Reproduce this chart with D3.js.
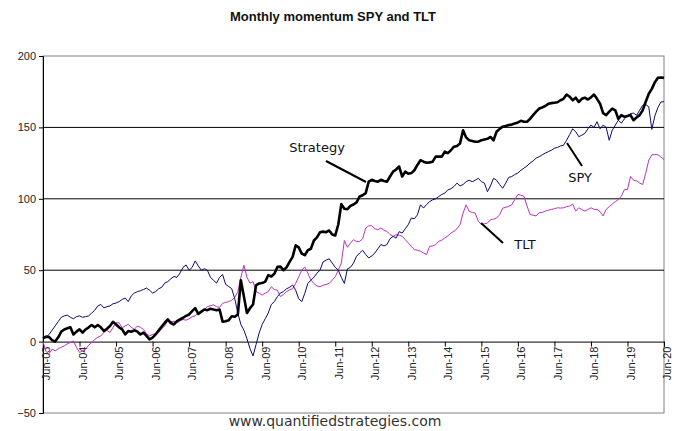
<!DOCTYPE html>
<html>
<head>
<meta charset="utf-8">
<script src="https://cdn.jsdelivr.net/npm/d3@7"></script>
<style>
  body { margin: 0; background: #fff; }
  svg text { font-family: Arial, "Liberation Sans", sans-serif; }
</style>
</head>
<body>
<div id="chart"></div>
<script>
// monthly values, Jun-03 .. Jun-20
const strategy = [2.3,3.5,3.2,1,0,3,7,8.5,9.3,10,5,7,8.6,6.3,8.5,10,11.6,10,11.6,10,
  7.4,9,10.9,13.9,12,10,8.6,5,7.4,6.9,7.9,7,5,6.3,4,1.6,2.8,5,7.9,10.5,
  13.2,15.5,13,12,14.3,15.5,16.7,18,19,21.3,23.4,19.4,21,22.5,22,23,22.5,22,22.5,14,
  14.3,15,17.8,17.4,19,43,31.5,20,23.4,26,39.6,40.7,41,42,46.5,45.6,47.5,52.3,52.5,50,
  52,55.8,59.3,67.4,66,61.6,60.5,64,65,70.8,73,76.6,77,76.6,77.8,75,74.3,82,96.3,93,
  92.8,95,96,97.5,101.6,102.5,104,112,113.3,112.5,112,113.3,112.5,112,115.6,119,120.5,122.6,115.6,119,
  117.5,118,120,123.7,127,126,125.3,125.5,126,129.5,129.5,129.5,133,132,134,136.5,137,138.8,148,143,
  141,140.5,140,140,141,141.5,142,143.3,141,147,149,150.5,151,151.6,152,152.8,153.5,154.6,154,154,
  156,158.6,161,163.2,164,165,166.5,167,167.3,167.6,169,170,173,171.5,169,170.8,167.8,170,170.8,169.5,
  171,173,170,166.6,160,158.6,161,163.2,162,156,158.6,157.4,158,158.6,155,157,158.6,162,168,173.6,
  177,181.7,184.7,185,184.7];

const spy = [1.6,3,5,8,11,14,17,18,18.5,17,16,17.5,18,17,17.5,18,20,22,25,26,
  23.6,24.5,25,26.5,27,28,29.5,30.5,28,32,34,35,35.6,36.5,37.5,36,34,35,37,38,
  41,42,44,45.6,45,48,52,53.7,50,52,56.5,53,50,51,50,45,43,41,45,47,
  40,38.6,37,30,20,12,8,2,-5,-10,-2,6,12,16,20,26,28,31.5,34,35,
  37,38,39.6,36,30,28,33.8,40.7,43,45,48,50,55.8,57,58,55,52,50,45,40.7,
  51,52,55,59.8,62,64,61,58.6,60,62,65,68,67,68,72,73.7,72.5,77,76,79,
  81.9,86.5,86,88.8,95.8,93.5,96,98,99.3,100,101.6,103,104,106.3,107,108.6,111,109,110,112,
  113,112,113,114.4,112,111,105,109,114.4,113,110,107.4,111,115,115.6,117,118,120,121.5,123,
  125,126.5,128.5,129.5,130.8,132,133,134,135.4,136,137,137.5,141,145,149,147,143.5,144.5,145.8,149,
  151.6,150,154,149,151.6,150,141,148,151.6,155,153,156,158,159.7,160,158.5,162,165.5,166,164.4,
  148.6,158,164,167.8,168];

const tlt = [0,-7,-8.5,-5.3,-6.5,-5,-4,-3,-1.5,-0.7,0.5,-4,-7.6,-6.5,-5.3,-2.5,-0.7,1.6,3,4,
  6.5,7.9,6.3,10,13.2,13.2,9.7,11,12,10,8.6,10.9,10,8.6,5.5,4,5,5.5,6.3,9,
  10.9,14.8,14,14.3,13.2,14.5,15.5,15,16,17.5,18,20,21,22.5,24.5,25.2,25.7,24.5,24,26.8,
  27.5,28,29,31,35,45,53.5,45,41,42,35,34,32.6,34,35,38.4,36.5,36,31.5,33,
  35,36.3,37,40.7,45.4,50,52.3,48,43,40.7,39,38.4,39.5,40,40.7,43,45.4,50,55,70.8,
  66,69,71.4,70,70.2,72,79.5,81,81.2,79,78.4,79.5,78,77.2,75,73.7,74.9,74.5,73.7,71.4,
  69,66.7,64.4,64,63.3,62,61,66.7,67,67.9,70.2,71,72.6,74,76,77.2,79,81.9,90,95.8,
  91.2,90.5,90,84.2,82,82.5,83,85.3,85.8,86.5,88.8,93.5,94,94.7,95.8,99.5,103,102.5,101.8,95,
  89,88.5,88,90.3,90.5,91.4,92,92.6,93,93.7,93.5,93.7,94.5,95,96.3,91.4,93.7,92.5,91.4,92.5,
  93.7,92.6,92.6,91,88,92.6,94.5,96.3,98,99.5,101.8,106.5,106.5,115.7,113,112.5,111,110,118,127,
  130.8,131,130.8,129.2,127.5];

const xTickLabels = ["Jun-03","Jun-04","Jun-05","Jun-06","Jun-07","Jun-08","Jun-09","Jun-10","Jun-11",
  "Jun-12","Jun-13","Jun-14","Jun-15","Jun-16","Jun-17","Jun-18","Jun-19","Jun-20"];
const yTicks = [-50, 0, 50, 100, 150, 200];

const canvasWidth = 674, canvasHeight = 431;
const margin = { top: 56, right: 10, bottom: 18, left: 43 };
const width = canvasWidth - margin.left - margin.right;
const height = canvasHeight - margin.top - margin.bottom;

const months = d3.range(spy.length);
const x = d3.scaleLinear().domain([0, months.length - 1]).range([0, width]);
const y = d3.scaleLinear().domain([-50, 200]).range([height, 0]);

const svg = d3.select("#chart").append("svg")
    .attr("width", canvasWidth)
    .attr("height", canvasHeight)
  .append("g")
    .attr("transform", "translate(" + margin.left + "," + margin.top + ")");

// title
svg.append("text")
  .attr("x", 290).attr("y", -35)
  .attr("text-anchor", "middle")
  .style("font-weight", "bold").style("font-size", "13px").style("fill", "#111")
  .text("Monthly momentum SPY and TLT");

// plot border
svg.append("rect")
  .attr("width", width).attr("height", height)
  .attr("fill", "none").attr("stroke", "#808080");

// gridlines
svg.append("g").selectAll("line")
  .data([50, 100, 150])
  .enter().append("line")
    .attr("x1", 0).attr("x2", width)
    .attr("y1", (o) => y(o)).attr("y2", (o) => y(o))
    .attr("stroke", "#000").attr("stroke-width", 1);

// y axis
const yAxis = svg.append("g")
  .call(d3.axisLeft(y).tickValues(yTicks).tickSize(4).tickPadding(3));
yAxis.select(".domain").attr("stroke", "#000");
yAxis.selectAll(".tick text").style("font-size", "11px").style("fill", "#222");

// x axis at zero
const juneIdx = xTickLabels.map((d, i) => i * 12);
const xAxis = svg.append("g")
  .attr("transform", "translate(0," + y(0) + ")")
  .call(d3.axisBottom(x).tickValues(juneIdx).tickSize(5)
    .tickFormat((d, i) => xTickLabels[i]));
xAxis.select(".domain").attr("stroke", "#000");
xAxis.selectAll(".tick text")
  .style("font-size", "11px").style("fill", "#222")
  .attr("text-anchor", "end")
  .attr("transform", "rotate(-90)")
  .attr("x", -5).attr("y", 0).attr("dy", "0.35em")
  .attr("dx", 0);
xAxis.selectAll(".tick text").attr("y", 3);

// lines
const line = d3.line().x((d, i) => x(i)).y((d) => y(d));

svg.append("path").datum(tlt)
  .attr("fill", "none").attr("stroke", "#c030c0").attr("stroke-width", 1)
  .attr("d", line);
svg.append("path").datum(spy)
  .attr("fill", "none").attr("stroke", "#0a0a70").attr("stroke-width", 1)
  .attr("d", line);
svg.append("path").datum(strategy)
  .attr("fill", "none").attr("stroke", "#000").attr("stroke-width", 2.6)
  .attr("stroke-linejoin", "round")
  .attr("d", line);

// labels with leader lines
const labels = [
  { text: "Strategy", tx: 274, ty: 96, lx1: 283, ly1: 105, lx2: 323, ly2: 126 },
  { text: "SPY", tx: 537, ty: 126, lx1: 524, ly1: 87, lx2: 539, ly2: 110 },
  { text: "TLT", tx: 482, ty: 193, lx1: 438, ly1: 167, lx2: 460, ly2: 187 }
];
const lab = svg.append("g").selectAll("g").data(labels).enter().append("g");
lab.append("line")
  .attr("x1", (o) => o.lx1).attr("y1", (o) => o.ly1)
  .attr("x2", (o) => o.lx2).attr("y2", (o) => o.ly2)
  .attr("stroke", "#000").attr("stroke-width", 2);
lab.append("text")
  .attr("x", (o) => o.tx).attr("y", (o) => o.ty)
  .attr("text-anchor", "middle")
  .style("font-family", "'DejaVu Sans', sans-serif")
  .style("font-size", "13px").style("fill", "#111")
  .text((o) => o.text);

// footer
svg.append("text")
  .attr("x", 292).attr("y", 370)
  .attr("text-anchor", "middle")
  .style("font-family", "'DejaVu Sans', sans-serif")
  .style("font-size", "14px").style("fill", "#333")
  .text("www.quantifiedstrategies.com");
</script>
</body>
</html>
